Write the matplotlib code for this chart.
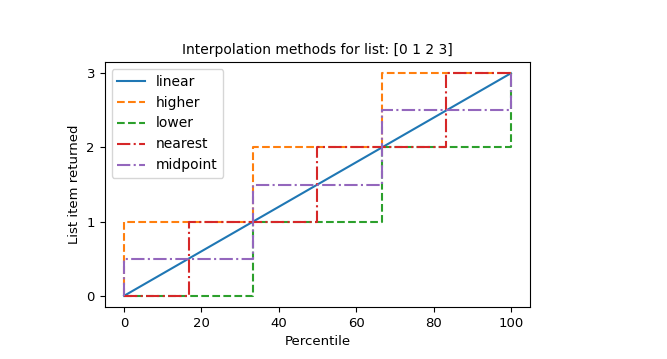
import numpy as np
import matplotlib
matplotlib.use("Agg")
import matplotlib.pyplot as plt

# list used in the title / y ticks
a = [0, 1, 2, 3]

# breakpoints (percentile, returned item)
linear_x = [0, 100]
linear_y = [0, 3]
higher_x = [0, 0, 33.33, 33.33, 66.67, 66.67, 100]
higher_y = [0, 1, 1, 2, 2, 3, 3]
lower_x = [0, 33.33, 33.33, 66.67, 66.67, 100, 100]
lower_y = [0, 0, 1, 1, 2, 2, 3]
nearest_x = [0, 16.67, 16.67, 50, 50, 83.33, 83.33, 100]
nearest_y = [0, 0, 1, 1, 2, 2, 3, 3]
midpoint_x = [0, 0, 33.33, 33.33, 66.67, 66.67, 100, 100]
midpoint_y = [0, 0.5, 0.5, 1.5, 1.5, 2.5, 2.5, 3]

lines = [
    ('linear', linear_x, linear_y, '-'),
    ('higher', higher_x, higher_y, '--'),
    ('lower', lower_x, lower_y, '--'),
    ('nearest', nearest_x, nearest_y, '-.'),
    ('midpoint', midpoint_x, midpoint_y, '-.'),
]

plt.rcParams['axes.labelsize'] = 9.5
plt.rcParams['xtick.labelsize'] = 9.5
plt.rcParams['ytick.labelsize'] = 9.5

fig = plt.figure(figsize=(6.67, 3.59), dpi=100)
ax = fig.add_axes([0.157, 0.145, 0.638, 0.682])

for name, xs, ys, style in lines:
    ax.plot(xs, ys, label=name, linestyle=style)

ax.set(
    xlabel='Percentile',
    ylabel='List item returned',
    yticks=a)
ax.set_title('Interpolation methods for list: ' + str(np.array(a)), fontsize=10)
ax.legend(loc='upper left')

fig.savefig('out.png', dpi=100)
